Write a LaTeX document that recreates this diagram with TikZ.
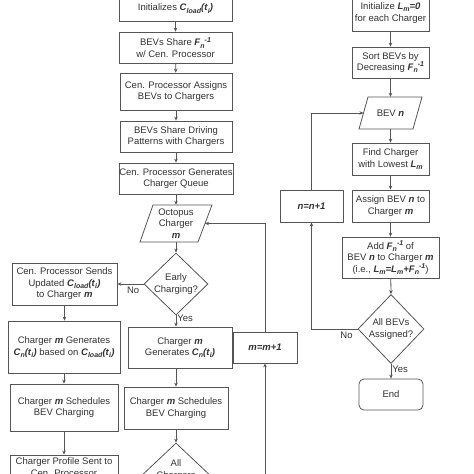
\documentclass[tikz,border=0pt]{standalone}
\usepackage{fontspec}
\setmainfont{Liberation Sans}
\usetikzlibrary{shapes.geometric,arrows.meta}
\definecolor{linec}{HTML}{555555}
\definecolor{txtc}{HTML}{333333}
\newcommand{\bvi}[1]{\textbf{\textit{#1}}}
\newcommand{\sbx}[1]{\raisebox{-0.45ex}{\fontsize{7}{7}\selectfont\bvi{#1}}}
\newcommand{\spx}[1]{\raisebox{0.75ex}{\fontsize{7}{7}\selectfont\bvi{#1}}}
\newcommand{\Cload}{\bvi{C}\sbx{load}\bvi{(t}\sbx{i}\bvi{)}}
\newcommand{\Cnt}{\bvi{C}\sbx{n}\bvi{(t}\sbx{i}\bvi{)}}
\newcommand{\Fninv}{\bvi{F}\sbx{n}\spx{-1}}
\newcommand{\Lmx}{\bvi{L}\sbx{m}}
\begin{document}
\begin{tikzpicture}[x=1pt,y=-1pt,
  every node/.style={font=\fontsize{9.5}{11.5}\selectfont, text=txtc},
  pbox/.style={draw=linec, line width=0.8pt, fill=white, align=center, inner sep=0pt, rectangle},
  pdia/.style={draw=linec, line width=0.8pt, diamond, inner sep=0pt},
  pline/.style={draw=linec, line width=0.8pt},
  ptxt/.style={align=center, inner sep=0pt},
  arr/.style={draw=linec, line width=0.8pt, -{Stealth[length=4pt,width=3.5pt]}},
  lbl/.style={inner sep=1pt}
]
\useasboundingbox (0,0) rectangle (474,474);
\clip (0,0) rectangle (474,474);
\fill[white] (0,0) rectangle (474,474);

% left column
\node[pbox, minimum width=113, minimum height=44] (init) at (175.5,-1) {};
\node[ptxt] (initt) at (175.5,8.5) {Initializes \Cload};
\node[pbox, minimum width=113, minimum height=31] (share) at (175.5,47.5) {BEVs Share \Fninv\\w/ Cen. Processor};
\node[pbox, minimum width=112, minimum height=37] (assign) at (176,91.5) {Cen. Processor Assigns\\BEVs to Chargers};
\node[pbox, minimum width=112, minimum height=31] (drive) at (176,136.5) {BEVs Share Driving\\Patterns with Chargers};
\node[pbox, minimum width=114, minimum height=31] (queue) at (176,178.5) {Cen. Processor Generates\\Charger Queue};
\draw[pline] (153,205) -- (212,205) -- (198,242) -- (140,242) -- cycle;
\node[ptxt, minimum width=50, minimum height=37] (octo) at (176,223.5) {Octopus\\Charger\\\bvi{m}};
\coordinate (octoR) at (205,223.5);
\node[pdia, minimum width=64, minimum height=62] (early) at (176,284) {};
\node[ptxt] (earlyt) at (early) {Early\\Charging?};
\node[pbox, minimum width=105, minimum height=42] (sends) at (64.5,284) {Cen. Processor Sends\\Updated \Cload\\to Charger \bvi{m}};
\node[pbox, minimum width=112, minimum height=52] (genL) at (64,347) {Charger \bvi{m} Generates\\\Cnt{} based on \Cload};
\node[pbox, minimum width=104, minimum height=41] (genR) at (180,347.5) {Charger \bvi{m}\\Generates \Cnt};
\node[pbox, minimum width=108, minimum height=47] (schL) at (64,407.5) {Charger \bvi{m} Schedules\\BEV Charging};
\node[pbox, minimum width=104, minimum height=42] (schR) at (176,408) {Charger \bvi{m} Schedules\\BEV Charging};
\node[pbox, minimum width=108, minimum height=46, text depth=22pt] (prof) at (64,478) {Charger Profile Sent to\\Cen. Processor};
\node[pdia, minimum width=70, minimum height=66] (allch) at (176,476) {};
\node[ptxt] (allcht) at (176,470) {All\\Chargers};
\node[pbox, minimum width=64, minimum height=31] (mm) at (265,347.5) {\bvi{m=m+1}};
\coordinate (mmin) at (265,480);

% right column
\node[pbox, minimum width=77, minimum height=36] (initL) at (390.5,13) {Initialize \Lmx\bvi{=0}\\for each Charger};
\node[pbox, minimum width=77, minimum height=31] (sort) at (390.5,62.5) {Sort BEVs by\\Decreasing \Fninv};
\draw[pline] (368,97) -- (422,97) -- (413,129) -- (359,129) -- cycle;
\node[ptxt, minimum width=40, minimum height=32] (bevn) at (390.5,113) {BEV \bvi{n}};
\coordinate (bevnL) at (363.5,113);
\node[pbox, minimum width=77, minimum height=32] (find) at (390.5,159) {Find Charger\\with Lowest \Lmx};
\node[pbox, minimum width=77, minimum height=32] (asg) at (390.5,206) {Assign BEV \bvi{n} to\\Charger \bvi{m}};
\node[pbox, minimum width=63, minimum height=32] (nn) at (311.5,206) {\bvi{n=n+1}};
\node[pbox, minimum width=97, minimum height=41] (add) at (390.5,257.5) {Add \Fninv{} of\\BEV \bvi{n} to Charger \bvi{m}\\(i.e., \Lmx\bvi{=}\Lmx\bvi{+}\Fninv)};
\node[pdia, minimum width=66, minimum height=69] (allbev) at (391,329) {};
\node[ptxt] (allbevt) at (allbev) {All BEVs\\Assigned?};
\node[pbox, rounded corners=5pt, minimum width=64, minimum height=31] (end) at (391,394.5) {End};

% connectors left
\draw[arr] (init) -- (share);
\draw[arr] (share) -- (assign);
\draw[arr] (assign) -- (drive);
\draw[arr] (drive) -- (queue);
\draw[arr] (queue) -- (octo.north);
\draw[arr] (octo.south) -- (early.north);
\draw[arr] (early.west) -- node[lbl, below, pos=0.4, yshift=-2pt] {No} (sends.east);
\draw[arr] (early.south) -- node[lbl, right, pos=0.3] {Yes} (early.south |- genR.north);
\draw[arr] (sends.south) -- (sends.south |- genL.north);
\draw[arr] (genL) -- (schL);
\draw[arr] (schL) -- (prof);
\draw[arr] (genR.south -| schR) -- (schR);
\draw[arr] (schR) -- (allch.north);
\draw[arr] (mmin) -- (mm.south);
\draw[arr] (mm.north) |- (octoR);

% connectors right
\draw[arr] (initL) -- (sort);
\draw[arr] (sort) -- (bevn.north);
\draw[arr] (bevn.south) -- (find);
\draw[arr] (find) -- (asg);
\draw[arr] (asg) -- (add);
\draw[arr] (add) -- (allbev.north);
\draw[arr] (allbev.south) -- node[lbl, right, pos=0.35] {Yes} (end);
\draw[arr] (allbev.west) -| node[lbl, below, pos=0.12, yshift=-2pt] {No} (nn.south);
\draw[arr] (nn.north) |- (bevnL);
\end{tikzpicture}
\end{document}
